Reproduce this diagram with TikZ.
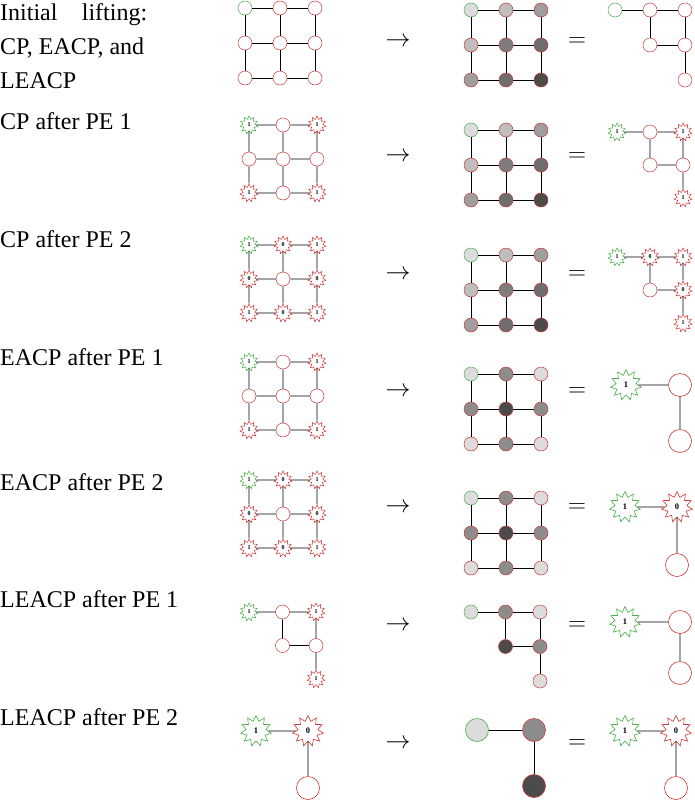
\documentclass[tikz,border=0pt]{standalone}
\usepackage{fontspec}
\setmainfont{Liberation Serif}
\usetikzlibrary{shapes.geometric}
\definecolor{rd}{RGB}{205,55,55}
\definecolor{gn}{RGB}{70,175,70}
\definecolor{s0}{RGB}{220,220,220}
\definecolor{s1}{RGB}{190,190,190}
\definecolor{s2}{RGB}{158,158,158}
\definecolor{s3}{RGB}{125,125,125}
\definecolor{s4}{RGB}{75,75,75}
\definecolor{e1}{RGB}{140,140,140}
\newcommand\GN[8]{\node[#7] (#1#5#6) at ({#2+(#6-1)*#4},{#3+(#5-1)*#4}) {#8};}
\newcommand\GE[1]{\draw[edge] (#111)--(#112) (#112)--(#113) (#121)--(#122) (#122)--(#123) (#131)--(#132) (#132)--(#133)
 (#111)--(#121) (#121)--(#131) (#112)--(#122) (#122)--(#132) (#113)--(#123) (#123)--(#133);}
\newcommand\LE[1]{\draw[edge] (#111)--(#112) (#112)--(#113) (#112)--(#122) (#122)--(#123) (#113)--(#123) (#123)--(#133);}
\tikzset{
 edge/.style={draw=black, line width=0.7pt},
 cir/.style={circle, draw=rd, line width=0.5pt, minimum size=14pt, inner sep=0pt, fill=white},
 gcir/.style={cir, draw=gn},
 st/.style={star, star points=11, star point ratio=1.55, draw=rd, line width=0.5pt, minimum size=18pt, inner sep=0pt, fill=white, font=\bfseries\fontsize{6}{6}\selectfont},
 gst/.style={st, draw=gn},
 bcir/.style={circle, draw=rd, line width=0.6pt, minimum size=23pt, inner sep=0pt, fill=white},
 bst/.style={star, star points=11, star point ratio=1.55, draw=rd, line width=0.6pt, minimum size=31pt, inner sep=0pt, fill=white, font=\bfseries\fontsize{8.5}{8.5}\selectfont},
 gbst/.style={bst, draw=gn},
 lab/.style={anchor=west, inner sep=0pt, font=\fontsize{24}{24}\selectfont},
 op/.style={font=\fontsize{26}{26}\selectfont, inner sep=0pt},
}
\begin{document}
\begin{tikzpicture}[x=1pt,y=-1pt]
\useasboundingbox (0,0) rectangle (695,801);
% labels
\node[lab] (l1a) at (0,15) {\makebox[147pt][s]{Initial\hfill lifting:}};
\node[lab] (l1b) at (0,48) {CP, EACP, and};
\node[lab] (l1c) at (0,81) {LEACP};
\node[lab] (l2) at (0,121) {CP after PE 1};
\node[lab] (l3) at (0,239) {CP after PE 2};
\node[lab] (l4) at (0,357) {EACP after PE 1};
\node[lab] (l5) at (0,482) {EACP after PE 2};
\node[lab] (l6) at (0,599) {LEACP after PE 1};
\node[lab] (l7) at (0,717) {LEACP after PE 2};
% operators
\foreach \y/\n in {42/1,157/2,275/3,392/4,508/5,626/6,744/7}{
 \node[op] (ar\n) at (398,\y) {$\rightarrow$};
 \node[op] (eq\n) at (577,\y) {$=$};
}
% ===== row 1
\GN{a1}{245}{8}{35}{1}{1}{gcir}{}\GN{a1}{245}{8}{35}{1}{2}{cir}{}\GN{a1}{245}{8}{35}{1}{3}{cir}{}
\GN{a1}{245}{8}{35}{2}{1}{cir}{}\GN{a1}{245}{8}{35}{2}{2}{cir}{}\GN{a1}{245}{8}{35}{2}{3}{cir}{}
\GN{a1}{245}{8}{35}{3}{1}{cir}{}\GN{a1}{245}{8}{35}{3}{2}{cir}{}\GN{a1}{245}{8}{35}{3}{3}{cir}{}
\GE{a1}
\GN{b1}{471}{10}{35}{1}{1}{gcir,fill=s0}{}\GN{b1}{471}{10}{35}{1}{2}{cir,fill=s1}{}\GN{b1}{471}{10}{35}{1}{3}{cir,fill=s2}{}
\GN{b1}{471}{10}{35}{2}{1}{cir,fill=s1}{}\GN{b1}{471}{10}{35}{2}{2}{cir,fill=s3}{}\GN{b1}{471}{10}{35}{2}{3}{cir,fill=s3!70!s4}{}
\GN{b1}{471}{10}{35}{3}{1}{cir,fill=s2}{}\GN{b1}{471}{10}{35}{3}{2}{cir,fill=s3!70!s4}{}\GN{b1}{471}{10}{35}{3}{3}{cir,fill=s4}{}
\GE{b1}
\GN{c1}{615}{10}{35}{1}{1}{gcir}{}\GN{c1}{615}{10}{35}{1}{2}{cir}{}\GN{c1}{615}{10}{35}{1}{3}{cir}{}
\GN{c1}{615}{10}{35}{2}{2}{cir}{}\GN{c1}{615}{10}{35}{2}{3}{cir}{}\GN{c1}{615}{10}{35}{3}{3}{cir}{}
\LE{c1}
% ===== row 2
\GN{a2}{249}{125}{34}{1}{1}{gst}{1}\GN{a2}{249}{125}{34}{1}{2}{cir}{}\GN{a2}{249}{125}{34}{1}{3}{st}{1}
\GN{a2}{249}{125}{34}{2}{1}{cir}{}\GN{a2}{249}{125}{34}{2}{2}{cir}{}\GN{a2}{249}{125}{34}{2}{3}{cir}{}
\GN{a2}{249}{125}{34}{3}{1}{st}{1}\GN{a2}{249}{125}{34}{3}{2}{cir}{}\GN{a2}{249}{125}{34}{3}{3}{st}{1}
\GE{a2}
\GN{b2}{471}{130}{35}{1}{1}{gcir,fill=s0}{}\GN{b2}{471}{130}{35}{1}{2}{cir,fill=s1}{}\GN{b2}{471}{130}{35}{1}{3}{cir,fill=s2}{}
\GN{b2}{471}{130}{35}{2}{1}{cir,fill=s1}{}\GN{b2}{471}{130}{35}{2}{2}{cir,fill=s3}{}\GN{b2}{471}{130}{35}{2}{3}{cir,fill=s3!70!s4}{}
\GN{b2}{471}{130}{35}{3}{1}{cir,fill=s2}{}\GN{b2}{471}{130}{35}{3}{2}{cir,fill=s3!70!s4}{}\GN{b2}{471}{130}{35}{3}{3}{cir,fill=s4}{}
\GE{b2}
\GN{c2}{617}{132}{33}{1}{1}{gst}{1}\GN{c2}{617}{132}{33}{1}{2}{cir}{}\GN{c2}{617}{132}{33}{1}{3}{st}{1}
\GN{c2}{617}{132}{33}{2}{2}{cir}{}\GN{c2}{617}{132}{33}{2}{3}{cir}{}\GN{c2}{617}{132}{33}{3}{3}{st}{1}
\LE{c2}
% ===== row 3
\GN{a3}{249}{245}{34}{1}{1}{gst}{1}\GN{a3}{249}{245}{34}{1}{2}{st}{0}\GN{a3}{249}{245}{34}{1}{3}{st}{1}
\GN{a3}{249}{245}{34}{2}{1}{st}{0}\GN{a3}{249}{245}{34}{2}{2}{cir}{}\GN{a3}{249}{245}{34}{2}{3}{st}{0}
\GN{a3}{249}{245}{34}{3}{1}{st}{1}\GN{a3}{249}{245}{34}{3}{2}{st}{0}\GN{a3}{249}{245}{34}{3}{3}{st}{1}
\GE{a3}
\GN{b3}{471}{255}{35}{1}{1}{gcir,fill=s0}{}\GN{b3}{471}{255}{35}{1}{2}{cir,fill=s1}{}\GN{b3}{471}{255}{35}{1}{3}{cir,fill=s2}{}
\GN{b3}{471}{255}{35}{2}{1}{cir,fill=s1}{}\GN{b3}{471}{255}{35}{2}{2}{cir,fill=s3}{}\GN{b3}{471}{255}{35}{2}{3}{cir,fill=s3!70!s4}{}
\GN{b3}{471}{255}{35}{3}{1}{cir,fill=s2}{}\GN{b3}{471}{255}{35}{3}{2}{cir,fill=s3!70!s4}{}\GN{b3}{471}{255}{35}{3}{3}{cir,fill=s4}{}
\GE{b3}
\GN{c3}{617}{257}{33}{1}{1}{gst}{1}\GN{c3}{617}{257}{33}{1}{2}{st}{0}\GN{c3}{617}{257}{33}{1}{3}{st}{1}
\GN{c3}{617}{257}{33}{2}{2}{cir}{}\GN{c3}{617}{257}{33}{2}{3}{st}{0}\GN{c3}{617}{257}{33}{3}{3}{st}{1}
\LE{c3}
% ===== row 4
\GN{a4}{249}{362}{34}{1}{1}{gst}{1}\GN{a4}{249}{362}{34}{1}{2}{cir}{}\GN{a4}{249}{362}{34}{1}{3}{st}{1}
\GN{a4}{249}{362}{34}{2}{1}{cir}{}\GN{a4}{249}{362}{34}{2}{2}{cir}{}\GN{a4}{249}{362}{34}{2}{3}{cir}{}
\GN{a4}{249}{362}{34}{3}{1}{st}{1}\GN{a4}{249}{362}{34}{3}{2}{cir}{}\GN{a4}{249}{362}{34}{3}{3}{st}{1}
\GE{a4}
\GN{b4}{471}{374}{35}{1}{1}{gcir,fill=s0}{}\GN{b4}{471}{374}{35}{1}{2}{cir,fill=e1}{}\GN{b4}{471}{374}{35}{1}{3}{cir,fill=s0}{}
\GN{b4}{471}{374}{35}{2}{1}{cir,fill=e1}{}\GN{b4}{471}{374}{35}{2}{2}{cir,fill=s4}{}\GN{b4}{471}{374}{35}{2}{3}{cir,fill=e1}{}
\GN{b4}{471}{374}{35}{3}{1}{cir,fill=s0}{}\GN{b4}{471}{374}{35}{3}{2}{cir,fill=e1}{}\GN{b4}{471}{374}{35}{3}{3}{cir,fill=s0}{}
\GE{b4}
\node[gbst] (c411) at (626,385) {1};
\node[bcir] (c412) at (680,385) {};
\node[bcir] (c422) at (680,441) {};
\draw[edge] (c411)--(c412) (c412)--(c422);
% ===== row 5
\GN{a5}{249}{480}{34}{1}{1}{gst}{1}\GN{a5}{249}{480}{34}{1}{2}{st}{0}\GN{a5}{249}{480}{34}{1}{3}{st}{1}
\GN{a5}{249}{480}{34}{2}{1}{st}{0}\GN{a5}{249}{480}{34}{2}{2}{cir}{}\GN{a5}{249}{480}{34}{2}{3}{st}{0}
\GN{a5}{249}{480}{34}{3}{1}{st}{1}\GN{a5}{249}{480}{34}{3}{2}{st}{0}\GN{a5}{249}{480}{34}{3}{3}{st}{1}
\GE{a5}
\GN{b5}{471}{498}{35}{1}{1}{gcir,fill=s0}{}\GN{b5}{471}{498}{35}{1}{2}{cir,fill=e1}{}\GN{b5}{471}{498}{35}{1}{3}{cir,fill=s0}{}
\GN{b5}{471}{498}{35}{2}{1}{cir,fill=e1}{}\GN{b5}{471}{498}{35}{2}{2}{cir,fill=s4}{}\GN{b5}{471}{498}{35}{2}{3}{cir,fill=e1}{}
\GN{b5}{471}{498}{35}{3}{1}{cir,fill=s0}{}\GN{b5}{471}{498}{35}{3}{2}{cir,fill=e1}{}\GN{b5}{471}{498}{35}{3}{3}{cir,fill=s0}{}
\GE{b5}
\node[gbst] (c511) at (625,507) {1};
\node[bst] (c512) at (677,507) {0};
\node[bcir] (c522) at (677,565) {};
\draw[edge] (c511)--(c512) (c512)--(c522);
% ===== row 6
\GN{a6}{249}{612}{33.5}{1}{1}{gst}{1}\GN{a6}{249}{612}{33.5}{1}{2}{cir}{}\GN{a6}{249}{612}{33.5}{1}{3}{st}{1}
\GN{a6}{249}{612}{33.5}{2}{2}{cir}{}\GN{a6}{249}{612}{33.5}{2}{3}{cir}{}\GN{a6}{249}{612}{33.5}{3}{3}{st}{1}
\LE{a6}
\GN{b6}{471}{612}{34.5}{1}{1}{gcir,fill=s0}{}\GN{b6}{471}{612}{34.5}{1}{2}{cir,fill=e1}{}\GN{b6}{471}{612}{34.5}{1}{3}{cir,fill=s0}{}
\GN{b6}{471}{612}{34.5}{2}{2}{cir,fill=s4}{}\GN{b6}{471}{612}{34.5}{2}{3}{cir,fill=e1}{}\GN{b6}{471}{612}{34.5}{3}{3}{cir,fill=s0}{}
\LE{b6}
\node[gbst] (c611) at (625,622) {1};
\node[bcir] (c612) at (680,622) {};
\node[bcir] (c622) at (680,673) {};
\draw[edge] (c611)--(c612) (c612)--(c622);
% ===== row 7
\node[gbst] (a711) at (256,731) {1};
\node[bst] (a712) at (308,731) {0};
\node[bcir] (a722) at (308,788) {};
\draw[edge] (a711)--(a712) (a712)--(a722);
\node[bcir,draw=gn,fill=s0] (b711) at (477,730) {};
\node[bcir,fill=e1] (b712) at (534,730) {};
\node[bcir,fill=s4] (b722) at (534,786) {};
\draw[edge] (b711)--(b712) (b712)--(b722);
\node[gbst] (c711) at (625,731) {1};
\node[bst] (c712) at (676,731) {0};
\node[bcir] (c722) at (676,788) {};
\draw[edge] (c711)--(c712) (c712)--(c722);
\end{tikzpicture}
\end{document}
